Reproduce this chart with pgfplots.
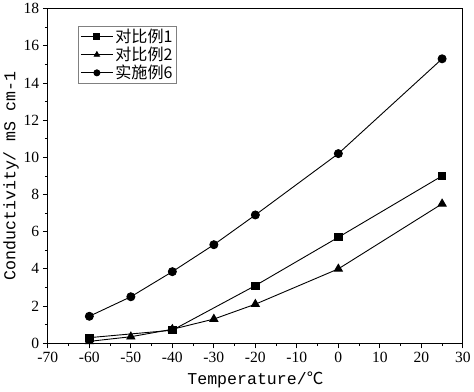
\documentclass[border=0pt]{standalone}
\usepackage{pgfplots}
\pgfplotsset{compat=1.18}
\usepackage{fontspec}
\setmainfont{Liberation Serif}
\newfontfamily\cjk{Noto Sans CJK SC}
\newfontfamily\monof{Liberation Mono}
\begin{document}
\begin{tikzpicture}
\begin{axis}[
  scale only axis,
  width=413pt, height=333pt,
  xmin=-70, xmax=30, ymin=0, ymax=18,
  xtick={-70,-60,...,30}, ytick={0,2,...,18},
  minor x tick num=1, minor y tick num=1,
  tick pos=left, tick align=outside,
  major tick length=5pt, minor tick length=3pt,
  every tick/.style={black, line width=0.8pt},
  axis line style={line width=0.9pt},
  ticklabel style={font=\fontsize{15.5}{17}\selectfont},
  /pgf/number format/assume math mode=true,
  xlabel={\monof Temperature/{\cjk ℃}},
  ylabel={\monof Conductivity/ mS cm-1},
  label style={font=\fontsize{16.5}{18}\selectfont},
  xlabel style={yshift=-3pt},
  ylabel style={yshift=-2pt},
  legend style={at={(0.073,0.948)}, anchor=north west, draw=gray, font=\cjk\fontsize{16}{17}\selectfont, inner xsep=2pt, inner ysep=1pt, row sep=-1pt},
  legend cell align=left,
  legend image code/.code={\draw[#1] (0pt,0pt) -- (32pt,0pt); \draw[#1, mark size=3pt] plot coordinates {(16pt,0pt)};},
  every axis plot/.append style={black, line width=0.9pt},
]
\addplot[mark=square*, mark size=3.6pt] coordinates {(-60,0.3) (-40,0.7) (-20,3.1) (0,5.7) (25,9.0)};
\addlegendentry{对比例1}
\addplot[mark=triangle*, mark size=4.6pt] coordinates {(-60,0.1) (-50,0.35) (-40,0.75) (-30,1.3) (-20,2.1) (0,4.0) (25,7.5)};
\addlegendentry{对比例2}
\addplot[mark=*, mark size=4pt] coordinates {(-60,1.45) (-50,2.5) (-40,3.85) (-30,5.3) (-20,6.9) (0,10.2) (25,15.3)};
\addlegendentry{实施例6}
\end{axis}
\end{tikzpicture}
\end{document}
